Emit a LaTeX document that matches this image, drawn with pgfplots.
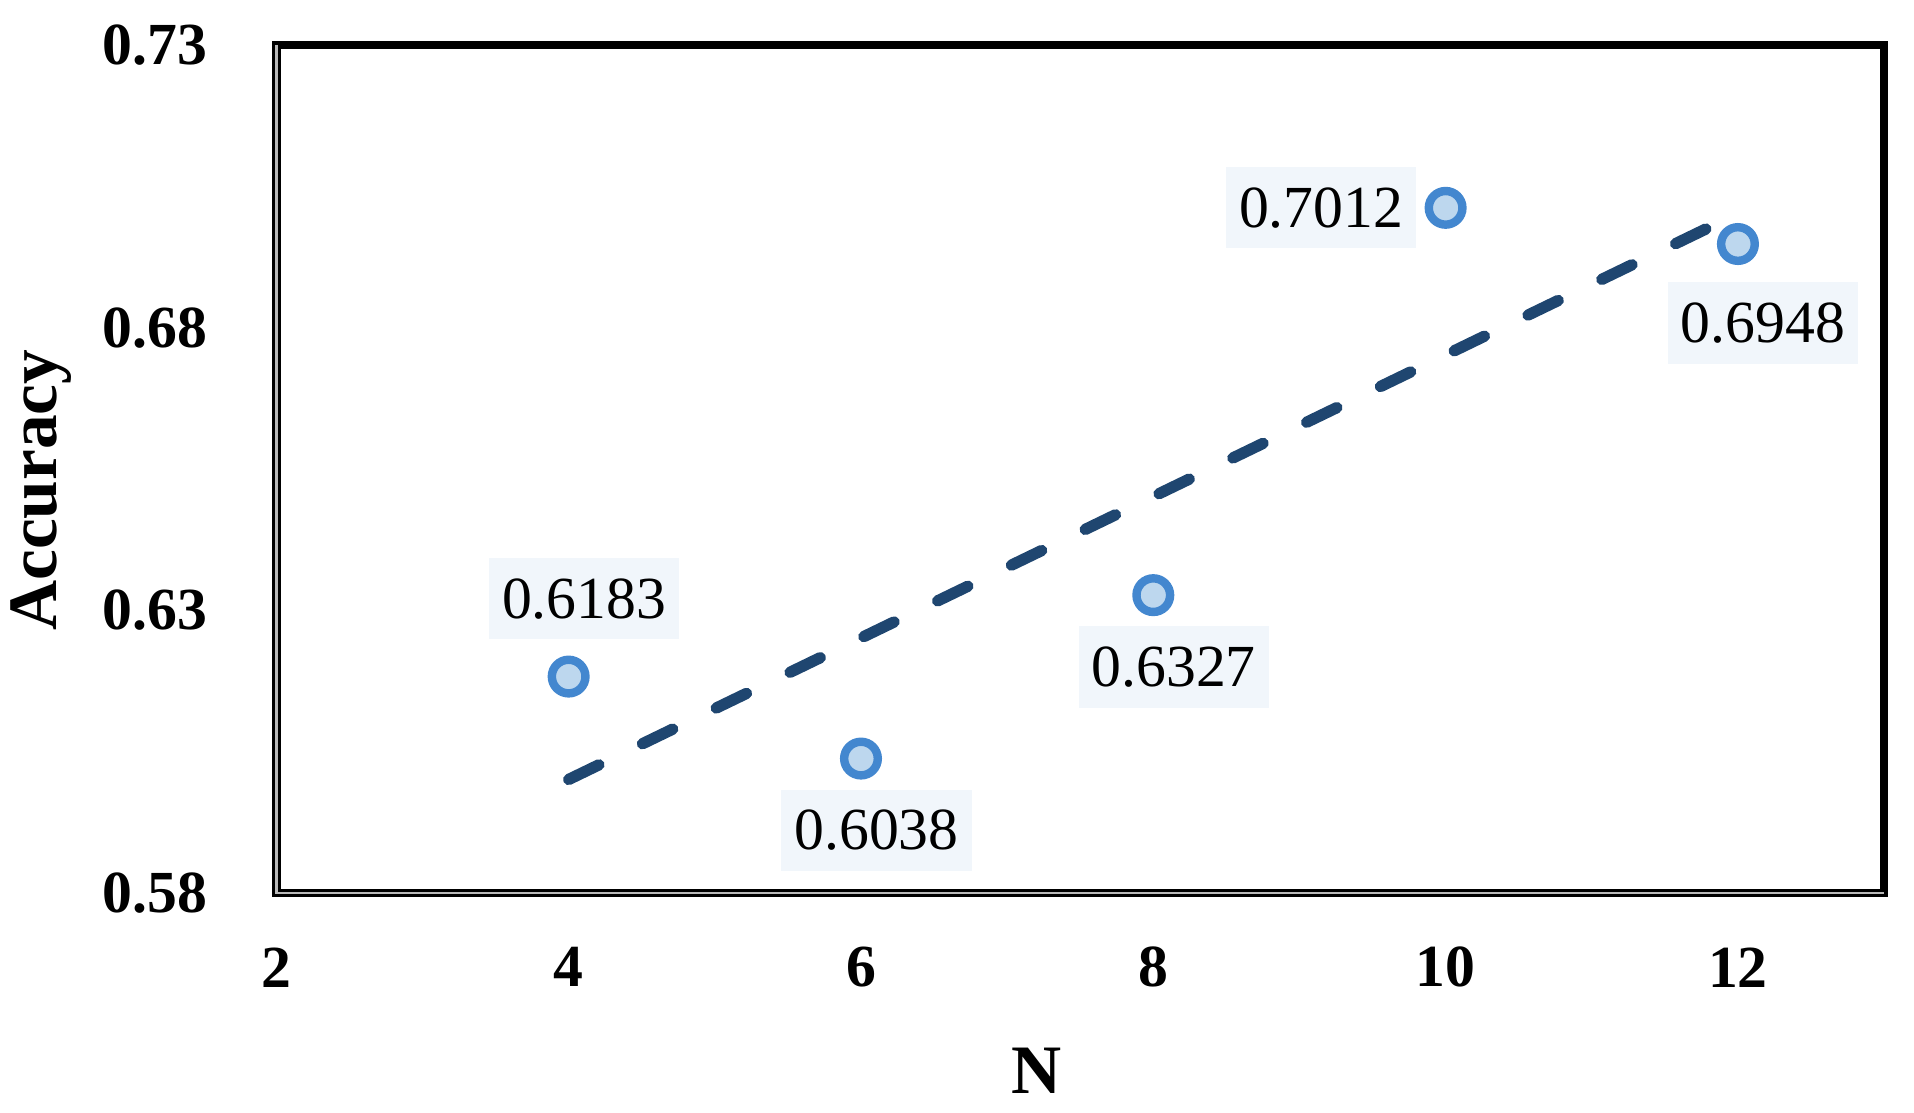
\documentclass[border=0pt]{standalone}
\usepackage{pgfplots}
\pgfplotsset{compat=1.18}
\usepackage{pgfplotstable}
\usepackage{fontspec}
\setmainfont{Liberation Serif}
\definecolor{ring}{HTML}{4387CF}
\definecolor{mfill}{HTML}{BDD7EE}
\definecolor{trend}{HTML}{1F4670}
\definecolor{lbox}{HTML}{F1F6FB}

\pgfplotstableread{
x y dx dy lab
4 0.6183 0.13 0.65 0.6183
6 0.6038 0.13 -0.60 0.6038
8 0.6327 0.17 -0.60 0.6327
10 0.7012 -1.04 0.0 0.7012
12 0.6948 0.21 -0.66 0.6948
}\pts

\begin{document}
\begin{tikzpicture}
\begin{axis}[name=ax, scale only axis, width=13.44cm, height=7.09cm,
  xmin=2, xmax=13, ymin=0.58, ymax=0.73,
  xtick={2,4,6,8,10,12}, ytick={0.58,0.63,0.68,0.73},
  yticklabels={0.58,0.63,0.68,0.73},
  major tick length=0pt, tick style={draw=none},
  /pgf/number format/assume math mode=true,
  ticklabel style={font=\fontsize{14.2}{17}\selectfont\bfseries, inner sep=0pt},
  xticklabel style={anchor=center, yshift=-0.62cm},
  yticklabel style={anchor=east, xshift=-0.57cm},
  axis line style={line width=2pt, black},
  xlabel={N}, ylabel={Accuracy},
  label style={font=\fontsize{16.5}{20}\selectfont\bfseries},
  xlabel style={at={(axis description cs:0.473,-0.210)}, anchor=center},
  ylabel style={at={(axis description cs:-0.1466,0.475)}, anchor=center},
  clip=false]
\addplot[trend, line width=2.7pt, dash pattern=on 8pt off 11.5pt, line cap=round]
  coordinates {(4,0.6001) (12,0.7002)};
\addplot[only marks, mark=*, mark size=4pt,
  mark options={draw=ring, fill=mfill, line width=2pt},
  point meta=explicit symbolic, nodes near coords,
  visualization depends on={\thisrow{dx}\as\dx},
  visualization depends on={\thisrow{dy}\as\dy},
  every node near coord/.append style={anchor=center, xshift=\dx cm, yshift=\dy cm,
    fill=lbox, text=black, font=\fontsize{14.2}{17}\selectfont,
    minimum width=1.59cm, minimum height=0.68cm, inner sep=0pt}]
  table[x=x, y=y, meta=lab]{\pts};
\end{axis}
\draw[gray!55, line width=0.6pt] (ax.north west) -- (ax.south west) -- (ax.south east);
\pgfresetboundingbox
\path[use as bounding box] ([shift={(-2.31cm,-1.83cm)}]ax.south west) rectangle ([shift={(0.25cm,0.376cm)}]ax.north east);
\end{tikzpicture}
\end{document}
